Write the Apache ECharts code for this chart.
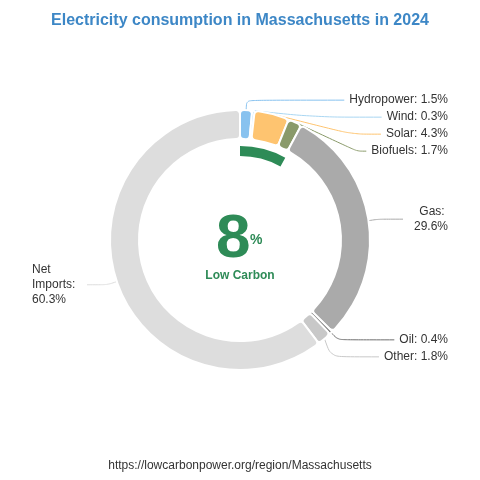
<!DOCTYPE html>
<html>
<head>
<meta charset="utf-8">
<script src="https://cdn.jsdelivr.net/npm/echarts@6/dist/echarts.min.js"></script>
<style>html,body{margin:0;padding:0;background:#fff;}#c{width:480px;height:480px;}</style>
</head>
<body>
<div id="c"></div>
<script>
var categories = ['Hydropower', 'Wind', 'Solar', 'Biofuels', 'Gas', 'Oil', 'Other', 'Net Imports'];
var shares = [1.5, 0.3, 4.3, 1.7, 29.6, 0.4, 1.8, 60.3];
var colors = ['#88c2ef', '#a9d6f2', '#fec470', '#8a9a6a', '#aaaaaa', '#6e6e6e', '#c8c8c8', '#dddddd'];
var lowCarbon = 8;
var titleText = 'Electricity consumption in Massachusetts in 2024';
var sourceText = 'https://lowcarbonpower.org/region/Massachusetts';

var chart = echarts.init(document.getElementById('c'), null, {renderer: 'canvas'});
var wrapWidth = {'Gas': 40, 'Net Imports': 50};
var data = categories.map(function (n, i) {
  var d = {name: n, value: shares[i], itemStyle: {color: colors[i]}};
  if (wrapWidth[n]) d.label = {width: wrapWidth[n], overflow: 'break'};
  return d;
});
chart.setOption({
  animation: false,
  title: [{
    text: titleText, left: 'center', top: 8,
    textStyle: {color: '#3d87c6', fontSize: 16, fontWeight: 'bold', fontFamily: 'Liberation Sans'}
  }, {
    text: sourceText, left: 'center', top: 455,
    textStyle: {color: '#333', fontSize: 12, fontWeight: 'normal', fontFamily: 'Liberation Sans'}
  }],
  series: [{
    type: 'pie',
    center: [240, 240],
    radius: [101, 130],
    startAngle: 90,
    itemStyle: {borderRadius: 4, borderColor: '#fff', borderWidth: 2},
    label: {
      show: true,
      formatter: '{b}: {c}%',
      color: '#333',
      fontSize: 12,
      fontFamily: 'Liberation Sans',
      alignTo: 'edge',
      edgeDistance: 32,
      lineHeight: 15
    },
    labelLine: {show: true, length: 10, length2: 10, smooth: 0.3, lineStyle: {width: 1}},
    emphasis: {disabled: true},
    data: data
  }, {
    type: 'pie',
    center: [240, 240],
    radius: [84, 94],
    startAngle: 90,
    silent: true,
    label: {show: false},
    labelLine: {show: false},
    emphasis: {disabled: true},
    data: [
      {name: 'Low Carbon', value: lowCarbon, itemStyle: {color: '#2e8b57'}},
      {name: 'rest', value: 100 - lowCarbon, itemStyle: {color: 'rgba(0,0,0,0)'}}
    ]
  }],
  graphic: [{
    type: 'text', left: 216, top: 209,
    style: {text: String(lowCarbon), fill: '#2e8b57', font: 'bold 62px Liberation Sans'}
  }, {
    type: 'text', left: 250, top: 233,
    style: {text: '%', fill: '#2e8b57', font: 'bold 14px Liberation Sans'}
  }, {
    type: 'text', left: 'center', top: 270,
    style: {text: 'Low Carbon', fill: '#2e8b57', font: 'bold 12px Liberation Sans', textAlign: 'center'}
  }]
});
</script>
</body>
</html>
